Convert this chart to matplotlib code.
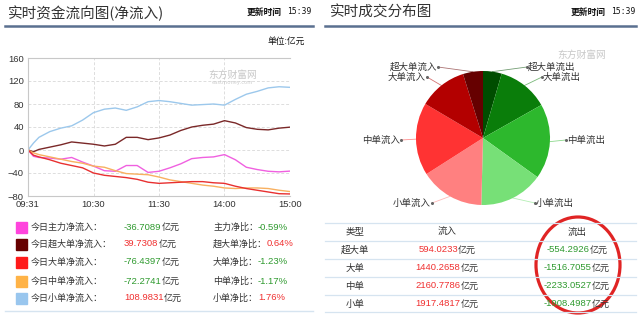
import matplotlib
matplotlib.use("Agg")
import matplotlib.pyplot as plt
from matplotlib.patches import Ellipse, Rectangle
from matplotlib.lines import Line2D
import numpy as np

plt.rcParams['font.family'] = ['Noto Sans CJK SC', 'DejaVu Sans']

W, H = 640, 316

# ---------------- data ----------------
minutes = [0, 5, 10, 20, 30, 40, 50, 60, 70, 80, 90, 100, 110, 120, 130,
           140, 150, 160, 170, 180, 190, 200, 210, 220, 230, 240]
xtick_pos = [0, 60, 120, 180, 240]
xtick_labels = ["09:31", "10:30", "11:30", "14:00", "15:00"]
ytick_vals = [160, 120, 80, 40, 0, -40, -80]

small_net = [0, 12, 22, 32, 38, 42, 52, 65, 71, 73, 69, 75, 84, 86, 84,
             81, 78, 79, 80, 78, 88, 97, 102, 108, 110, 108.98]
super_net = [0, -3, 1, 5, 9, 14, 12, 10, 7, 10, 22, 22, 18, 21, 26,
             34, 40, 43, 45, 51, 47, 39, 36, 35, 38, 39.73]
main_net = [0, -11, -13, -14, -16, -13, -21, -28, -36, -37, -27, -27, -39, -37, -31,
            -24, -15, -13, -12, -8, -17, -30, -34, -37, -38, -36.71]
large_net = [0, -9, -12, -17, -23, -27, -31, -40, -44, -46, -48, -51, -56, -58, -57,
             -56, -55, -55, -57, -58, -63, -67, -70, -73, -76, -76.44]
medium_net = [0, -5, -8, -12, -16, -20, -23, -28, -30, -36, -41, -42, -43, -47, -52,
              -55, -58, -61, -63, -66, -67, -66, -66, -67, -70, -72.27]

legend_names = ["今日主力净流入：", "今日超大单净流入：", "今日大单净流入：", "今日中单净流入：", "今日小单净流入："]
legend_values = ["-36.7089", "39.7308", "-76.4397", "-72.2741", "108.9831"]
ratio_names = ["主力净比：", "超大单净比：", "大单净比：", "中单净比：", "小单净比："]
ratio_values = ["-0.59%", "0.64%", "-1.23%", "-1.17%", "1.76%"]

pie_labels = ["超大单流出", "大单流出", "中单流出", "小单流出", "小单流入", "中单流入", "大单流入", "超大单流入"]
pie_values = [554.2926, 1516.7055, 2233.0527, 1908.4987, 1917.4817, 2160.7786, 1440.2658, 594.0233]

table_types = ["超大单", "大单", "中单", "小单"]
table_in = ["594.0233", "1440.2658", "2160.7786", "1917.4817"]
table_out = ["-554.2926", "-1516.7055", "-2233.0527", "-1908.4987"]

# ---------------- styles ----------------
line_colors = {
    "main": "#f060e0", "super": "#7a2828", "large": "#e83030",
    "medium": "#f8b060", "small": "#9cc8ec",
}
legend_colors = ["#ff44dd", "#660000", "#ff1a1a", "#ffb347", "#99c6ee"]
pie_colors = ["#004d00", "#0a7d0a", "#2db82d", "#77e077",
              "#ff8080", "#ff3333", "#b30000", "#660000"]
GREEN = "#2f9a2f"
RED = "#f03030"
TXT = "#333333"

fig = plt.figure(figsize=(W / 100, H / 100), dpi=100)
fig.patch.set_facecolor("white")


def fx(x):
    return x / W


def fy(y):
    return 1 - y / H


def ptext(x, y, s, **kw):
    return fig.text(fx(x), fy(y), s, **kw)


# ---------------- headers ----------------
for x0, x1, title, tx in [(5, 313, "实时资金流向图(净流入)", 8), (325, 636, "实时成交分布图", 330)]:
    ptext(tx, 13, title, fontsize=10.5, color=TXT, va="center", ha="left")
    fig.add_artist(Line2D([fx(x0), fx(x1)], [fy(25.5), fy(25.5)], color="#5a7090", lw=1.8))
ptext(247, 12, "更新时间", fontsize=6.3, color="#111111", va="center", ha="left", weight="bold")
ptext(287, 12, "15:39", fontsize=5.8, color="#111111", va="center", ha="left", family="DejaVu Sans Mono")
ptext(571, 12, "更新时间", fontsize=6.3, color="#111111", va="center", ha="left", weight="bold")
ptext(611, 12, "15:39", fontsize=5.8, color="#111111", va="center", ha="left", family="DejaVu Sans Mono")
ptext(305, 41, "单位:亿元", fontsize=6.3, color="#111111", va="center", ha="right")

# ---------------- left line chart ----------------
ax = fig.add_axes([fx(28), fy(196), (290 - 28) / W, (196 - 58) / H])
ax.plot(minutes, small_net, color=line_colors["small"], lw=1.0)
ax.plot(minutes, super_net, color=line_colors["super"], lw=1.0)
ax.plot(minutes, main_net, color=line_colors["main"], lw=1.0)
ax.plot(minutes, medium_net, color=line_colors["medium"], lw=1.0)
ax.plot(minutes, large_net, color=line_colors["large"], lw=1.0)
ax.set_xlim(0, 240)
ax.set_ylim(-80, 160)
ax.set_xticks(xtick_pos)
ax.set_xticklabels(xtick_labels)
ax.set_yticks(ytick_vals)
ax.tick_params(labelsize=6.8, colors=TXT, length=0, pad=3)
for t in ax.get_xticklabels() + ax.get_yticklabels():
    t.set_family(["Liberation Sans", "DejaVu Sans"])
ax.grid(True, color="#dddddd", lw=0.7, ls=(0, (3, 2)))
for s in ["left", "top", "bottom"]:
    ax.spines[s].set_color("#c8c8c8")
    ax.spines[s].set_linewidth(0.8)
ax.spines["right"].set_visible(False)
ax.text(0.78, 0.88, "东方财富网", transform=ax.transAxes, fontsize=7, color="#c8c8c8",
        ha="center", va="center")
ax.text(0.78, 0.82, "eastmoney.com", transform=ax.transAxes, fontsize=4, color="#cccccc",
        ha="center", va="center")

# ---------------- left legend table ----------------
renderer = fig.canvas.get_renderer()
row_y = [227, 244, 262, 281, 298]
for i in range(5):
    y = row_y[i]
    fig.add_artist(Rectangle((fx(16), fy(y + 5.5)), 11 / W, 11 / H, color=legend_colors[i],
                             transform=fig.transFigure))
    ptext(31, y, legend_names[i], fontsize=6.5, color=TXT, va="center", ha="left")
    col = GREEN if legend_values[i].startswith("-") else RED
    t = ptext(124, y, legend_values[i], fontsize=6.8, color=col, va="center", ha="left",
              family=["Liberation Sans", "DejaVu Sans"])
    bb = t.get_window_extent(renderer)
    fig.text(bb.x1 / fig.dpi / fig.get_figwidth(), fy(y), "亿元", fontsize=6.5, color=TXT,
             va="center", ha="left")
    t2 = ptext(213, y, ratio_names[i], fontsize=6.5, color=TXT, va="center", ha="left")
    bb2 = t2.get_window_extent(renderer)
    col2 = GREEN if ratio_values[i].startswith("-") else RED
    fig.text(bb2.x1 / fig.dpi / fig.get_figwidth(), fy(y), ratio_values[i], fontsize=6.8,
             color=col2, va="center", ha="left", family=["Liberation Sans", "DejaVu Sans"])
fig.add_artist(Line2D([fx(5), fx(313)], [fy(311), fy(311)], color="#d6e4f0", lw=1))

# ---------------- pie ----------------
cx, cy, r = 483, 138, 67
pax = fig.add_axes([fx(cx - r), fy(cy + r), 2 * r / W, 2 * r / H])
wedges, _ = pax.pie(pie_values, colors=pie_colors, startangle=90, counterclock=False,
                    radius=1, wedgeprops=dict(linewidth=0))
pax.set_xlim(-1, 1)
pax.set_ylim(-1, 1)
pax.set_aspect("equal")
pax.axis("off")

label_px = [(527, 67), (542, 77), (566, 140), (535, 203),
            (432, 203), (401, 140), (427, 77), (438, 67)]
for w, lab, (lx, ly), c in zip(wedges, pie_labels, label_px, pie_colors):
    ang = np.deg2rad((w.theta1 + w.theta2) / 2)
    ex, ey = np.cos(ang), np.sin(ang)
    dx, dy = (lx - cx) / r, (cy - ly) / r
    right = dx > 0
    pax.plot([ex, dx], [ey, dy], color=c, alpha=0.55, lw=0.6, clip_on=False)
    pax.plot([dx], [dy], marker="o", ms=1.2, color="#666666", clip_on=False)
    ptext(lx + (1 if right else -1), ly, lab, fontsize=6.8, color=TXT, va="center",
          ha="left" if right else "right")
ptext(582, 55, "东方财富网", fontsize=7, color="#c8c8c8", ha="center", va="center")

# ---------------- right table ----------------
for yl in [223, 241, 259, 277, 295, 312]:
    fig.add_artist(Line2D([fx(325), fx(636)], [fy(yl), fy(yl)], color="#d6e4f0", lw=0.9))
ptext(355, 232, "类型", fontsize=6.8, color=TXT, ha="center", va="center")
ptext(447, 232, "流入", fontsize=6.8, color=TXT, ha="center", va="center")
ptext(577, 232, "流出", fontsize=6.8, color=TXT, ha="center", va="center")
trow = [250, 268, 286, 304]


def money(xc, y, num, col):
    t = fig.text(0, 0, num, fontsize=6.8, color=col, va="center", ha="left",
                 family=["Liberation Sans", "DejaVu Sans"])
    u = fig.text(0, 0, "亿元", fontsize=6.5, color=TXT, va="center", ha="left")
    w1 = t.get_window_extent(renderer).width
    w2 = u.get_window_extent(renderer).width
    x0 = xc - (w1 + w2) / 2
    t.set_position((fx(x0), fy(y)))
    u.set_position((fx(x0 + w1), fy(y)))


for i in range(4):
    ptext(355, trow[i], table_types[i], fontsize=6.8, color=TXT, ha="center", va="center")
    money(447, trow[i], table_in[i], RED)
    money(577, trow[i], table_out[i], GREEN)

fig.add_artist(Ellipse((fx(578), fy(265)), 84 / W, 96 / H, fill=False, edgecolor="#e02424",
                       lw=2.3, transform=fig.transFigure))

fig.savefig("out.png", dpi=100)
